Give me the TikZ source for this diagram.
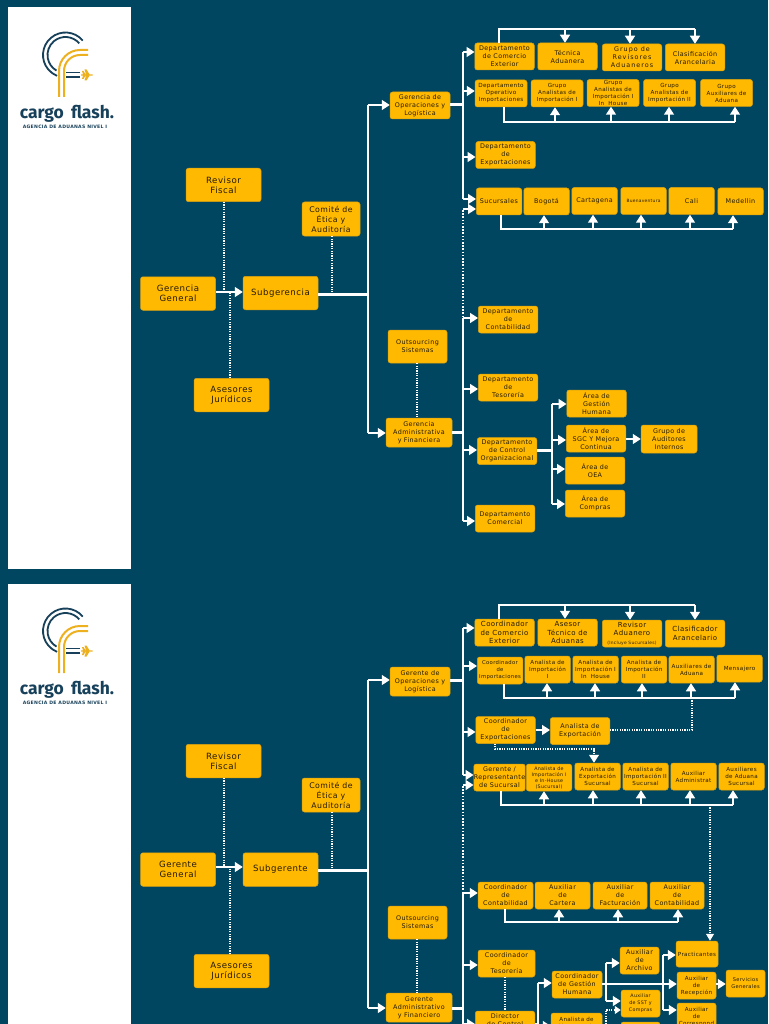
\documentclass[tikz,border=0pt]{standalone}
\usepackage{fontspec}
\setmainfont{DejaVu Sans}[LetterSpace=6]
\newfontfamily\brandfont{Fira Sans}
\usetikzlibrary{arrows.meta}
\definecolor{fondo}{HTML}{004660}
\definecolor{oro}{HTML}{FFB900}
\definecolor{borde}{HTML}{D8A012}
\definecolor{letra}{HTML}{241A00}
\definecolor{logoazul}{HTML}{17405A}
\definecolor{logooro}{HTML}{EDB11F}
\tikzset{
  org/.style={draw=borde,line width=.5pt,fill=oro,rounded corners=2.5pt,inner sep=0pt,
    align=center,text=letra},
  fa/.style={font=\fontsize{8.6}{10}\selectfont},
  fb/.style={font=\fontsize{7.8}{10}\selectfont},
  fg/.style={font=\fontsize{7}{8.3}\selectfont},
  fc/.style={font=\fontsize{6.4}{8}\selectfont},
  fd/.style={font=\fontsize{5.6}{7}\selectfont},
  fe/.style={font=\fontsize{4.4}{6}\selectfont},
  bigbox/.style={org,fa,minimum width=75pt,minimum height=33.5pt},
  midbox/.style={org,fc,minimum width=59.5pt,minimum height=27pt},
  lowbox/.style={org,fc,minimum width=52pt,minimum height=27pt},
  smallbox/.style={org,fc,minimum width=45.5pt,minimum height=27pt},
  tinybox/.style={org,fd,minimum width=39pt,minimum height=27pt},
  hilo/.style={white,line width=1.6pt},
  grueso/.style={white,line width=3pt},
  flecha/.style={white,line width=1.6pt,-{Triangle[width=10pt,length=8pt]}},
  punto/.style={white,line width=1.1pt,dash pattern=on 1.2pt off 1.2pt},
  puntog/.style={white,line width=1.6pt,dash pattern=on 1.6pt off 1.6pt},
}
\begin{document}
\begin{tikzpicture}[x=1pt,y=-1pt]
  \clip (0,0) rectangle (768,1024);
  \fill[fondo] (0,0) rectangle (768,1024);
  \fill[white] (8,7) rectangle (131,569);
  \fill[white] (8,584) rectangle (131,1030);
  % logo
  \foreach \yo in {0,576}{
  \begin{scope}[yshift=-\yo pt]
    \draw[logoazul,line width=1.8pt] (65.5,55) ++(40:22.5pt) arc[start angle=40,end angle=248,radius=22.5pt];
    \draw[logoazul,line width=1.8pt] (65.5,55) ++(40:18pt) arc[start angle=40,end angle=240,radius=18pt];
    \draw[logoazul,line width=1.6pt] (66,72.5) -- (80,72.5) (66,77) -- (80,77);
    \draw[logooro,line width=2pt] (59,97) -- (59,71) arc[start angle=180,end angle=90,radius=21pt] -- (88,50);
    \draw[logooro,line width=2pt] (64,97) -- (64,71) arc[start angle=180,end angle=90,radius=16pt] -- (88,55);
    \fill[logooro] (81,74.3) -- (83,74.3) -- (82,71) -- (83.5,71) -- (85.5,74.3) -- (86,74.3) -- (84.5,69.5) -- (86.5,69.5)
      -- (89.5,74.3) -- (92,74.3) -- (93,75) -- (92,75.7) -- (89.5,75.7) -- (86.5,80.5) -- (84.5,80.5) -- (86,75.7)
      -- (85.5,75.7) -- (83.5,79) -- (82,79) -- (83,75.7) -- (81,75.7) -- cycle;
    \node[text=logoazul,inner sep=0pt,font=\brandfont\bfseries\fontsize{17.5}{20}\selectfont] (marca\yo) at (67,114) {cargo\, flash.};
    \node[text=logoazul,inner sep=0pt,font=\bfseries\fontsize{4.6}{5}\selectfont] (lema\yo) at (65,127) {AGENCIA DE ADUANAS NIVEL I};
  \end{scope}
  }
  % primer organigrama
  \node[bigbox] (rf) at (223.5,185) {Revisor\\Fiscal};
  \node[bigbox] (gg) at (178,293.5) {Gerencia\\General};
  \node[bigbox] (sg) at (280.5,293) {Subgerencia};
  \node[bigbox] (aj) at (231.5,395) {Asesores\\Jurídicos};
  \node[org,fb,minimum width=58pt,minimum height=34pt] (ce) at (331,219) {Comité de\\Ética y\\Auditoría};
  \node[org,fc,minimum width=60pt,minimum height=27pt] (go) at (420,105.5) {Gerencia de\\Operaciones y\\Logística};
  \node[org,fc,minimum width=66pt,minimum height=29pt] (ga) at (419,432.5) {Gerencia\\Administrativa\\y Financiera};
  \node[org,fc,minimum width=59pt,minimum height=33pt] (os) at (417.5,346.5) {Outsourcing\\Sistemas};
  \node[midbox] (dce) at (504.5,56.5) {Departamento\\de Comercio\\Exterior};
  \node[midbox] (ta) at (567.5,56.5) {Técnica\\Aduanera};
  \node[midbox,font=\fontsize{6.4}{8}\selectfont\addfontfeature{LetterSpace=16}] (gr) at (632,57.5) {Grupo de\\Revisores\\Aduaneros};
  \node[midbox] (ca) at (695,57.5) {Clasificación\\Arancelaria};
  \node[lowbox,fe,font=\fontsize{5.7}{7}\selectfont] (dop) at (501,93.5) {Departamento\\Operativo\\Importaciones};
  \node[lowbox,fd] (g1) at (557,93.5) {Grupo\\Analistas de\\Importación I};
  \node[lowbox,fd] (g2) at (613,93) {Grupo\\Analistas de\\Importación I\\In\ \ House};
  \node[lowbox,fd] (g3) at (669.5,93) {Grupo\\Analistas de\\Importación II};
  \node[lowbox,fd] (g4) at (726.5,93) {Grupo\\Auxiliares de\\Aduana};
  \node[midbox] (dex) at (505.5,155) {Departamento\\de\\Exportaciones};
  \node[smallbox] (suc) at (499,201.5) {Sucursales};
  \node[smallbox] (bog) at (546.5,201.5) {Bogotá};
  \node[smallbox] (car) at (594.5,201) {Cartagena};
  \node[smallbox,fe] (bue) at (643.5,201) {Buenaventura};
  \node[smallbox] (cal) at (691.5,201) {Cali};
  \node[smallbox] (med) at (740.5,201.5) {Medellin};
  \node[midbox] (dcn) at (508,319.5) {Departamento\\de\\Contabilidad};
  \node[midbox] (dte) at (508,387.5) {Departamento\\de\\Tesorería};
  \node[midbox] (dco) at (507,451) {Departamento\\de Control\\Organizacional};
  \node[midbox] (dcm) at (505,518.5) {Departamento\\Comercial};
  \node[midbox] (ah) at (596.5,403.5) {Área de\\Gestión\\Humana};
  \node[midbox] (as) at (596,438.5) {Área de\\SGC Y Mejora\\Continua};
  \node[midbox] (ao) at (595,470.5) {Área de\\OEA};
  \node[midbox] (ac) at (595,503.5) {Área de\\Compras};
  \node[org,fc,minimum width=56pt,minimum height=28pt] (au) at (669,439) {Grupo de\\Auditores\\Internos};

  \coordinate (ma) at (368,105);
  \coordinate (ta1) at (463,52);
  \coordinate (tb1) at (463,318);
  \coordinate (tc1) at (552,404);
  \draw[hilo,-{Triangle[width=10pt,length=8pt]}] (gg.east |- 0,292) -- (sg.west |- 0,292);
  \draw[punto] (rf.south -| 224,0) -- (224,290);
  \draw[punto] (aj.north -| 230,0) -- (230,293);
  \draw[punto] (ce.south -| 332,0) -- (332,292);
  \draw[punto] (os.south -| 417,0) -- (ga.north -| 417,0);
  \draw[grueso] (sg.east |- 0,294) -- (ma |- 0,294);
  \draw[hilo] (ma) -- (ma |- 0,433);
  \draw[flecha] (ma) -- (ma -| go.west);
  \draw[flecha] (ma |- 0,433) -- (ga.west |- 0,433);
  \draw[grueso] (go.east |- 0,105) -- (ta1 |- 0,105);
  \draw[hilo] (ta1) -- (ta1 |- 0,199);
  \foreach \y/\n in {52/dce,91/dop,157/dex,199/suc}
    \draw[flecha] (ta1 |- 0,\y) -- (\n.west |- 0,\y);
  \draw[flecha] (ta1 |- 0,209) -- (suc.west |- 0,209);
  \draw[puntog] (ta1 |- 0,210) -- (tb1);
  \draw[grueso] (ga.east |- 0,432) -- (tb1 |- 0,432);
  \draw[hilo] (tb1) -- (tb1 |- 0,521);
  \foreach \y/\n in {318/dcn,389/dte,450/dco,521/dcm}
    \draw[flecha] (tb1 |- 0,\y) -- (\n.west |- 0,\y);
  \draw[hilo] (dce.north -| 499,0) |- (695,29) coordinate (ba1);
  \foreach \x/\n in {565/ta,630/gr,695/ca}
    \draw[flecha] (ba1 -| \x,0) -- (\n.north -| \x,0);
  \draw[hilo] (dop.south -| 504,0) |- (735,122) coordinate (bb1);
  \foreach \x/\n in {555/g1,611/g2,669/g3,735/g4}
    \draw[flecha] (bb1 -| \x,0) -- (\n.south -| \x,0);
  \draw[hilo] (suc.south -| 501,0) |- (733,229) coordinate (bc1);
  \foreach \x/\n in {544/bog,593/car,641/bue,690/cal,733/med}
    \draw[flecha] (bc1 -| \x,0) -- (\n.south -| \x,0);
  \draw[grueso] (dco.east |- 0,450) -- (tc1 |- 0,450);
  \draw[hilo] (tc1) -- (tc1 |- 0,504);
  \foreach \y/\n in {404/ah,440/as,469/ao,504/ac}
    \draw[flecha] (tc1 |- 0,\y) -- (\n.west |- 0,\y);
  \draw[flecha] (as.east |- 0,439) -- (au.west |- 0,439);

  % segundo organigrama
  \node[bigbox] (rf1) at (223.5,761) {Revisor\\Fiscal};
  \node[bigbox] (gg1) at (178,869.5) {Gerente\\General};
  \node[bigbox] (sg1) at (280.5,869.5) {Subgerente};
  \node[bigbox] (aj1) at (231.5,971) {Asesores\\Jurídicos};
  \node[org,fb,minimum width=58pt,minimum height=34pt] (ce1) at (331,795) {Comité de\\Ética y\\Auditoría};
  \node[org,fc,minimum width=60pt,minimum height=29pt] (go1) at (420,681.5) {Gerente de\\Operaciones y\\Logística};
  \node[org,fc,minimum width=66pt,minimum height=29pt] (ga1) at (419,1007.5) {Gerente\\Administrativo\\y Financiero};
  \node[org,fc,minimum width=59pt,minimum height=33pt] (os1) at (417.5,922.5) {Outsourcing\\Sistemas};
  \node[midbox,fg] (cce) at (504.5,632.5) {Coordinador\\de Comercio\\Exterior};
  \node[midbox,fg] (at) at (567.5,632.5) {Asesor\\Técnico de\\Aduanas};
  \node[midbox,fg] (ra) at (632,633.5) {Revisor\\Aduanero\\{\fontsize{4.4}{5}\selectfont (Incluye Sucursales)}};
  \node[midbox,fg] (cl) at (695,633.5) {Clasificador\\Arancelario};
  \node[smallbox,fe,font=\fontsize{5.3}{7}\selectfont] (cim) at (500,670.5) {Coordinador\\de\\Importaciones};
  \node[smallbox,fd] (ai) at (547.5,669.5) {Analista de\\Importación\\I};
  \node[smallbox,fd] (ah1) at (595.5,669.5) {Analista de\\Importación I\\In\ \ House};
  \node[smallbox,fd] (aii) at (644,669.5) {Analista de\\Importación\\II};
  \node[smallbox,fd] (axa) at (691.5,669.5) {Auxiliares de\\Aduana};
  \node[smallbox,fd] (men) at (739.5,668.5) {Mensajero};
  \node[midbox] (cex) at (505.5,730) {Coordinador\\de\\Exportaciones};
  \node[midbox] (aex) at (580,731) {Analista de\\Exportación};
  \node[org,fc,minimum width=49pt,minimum height=27pt] (grs) at (499.5,777.5) {Gerente /\\Representante\\de Sucursal};
  \node[smallbox,fe,font=\fontsize{4.8}{6}\selectfont] (ais) at (549,777.5) {Analista de\\Importación I\\e In-House\\(Sucursal)};
  \node[smallbox,fd] (aes) at (597.5,776.5) {Analista de\\Exportación\\Sucursal};
  \node[smallbox,fd] (ass) at (645.5,776.5) {Analista de\\Importación II\\Sucursal};
  \node[smallbox,fd] (adm) at (693.5,776.5) {Auxiliar\\Administrat};
  \node[smallbox,fd] (axs) at (741.5,776.5) {Auxiliares\\de Aduana\\Sucursal};
  \node[org,fc,minimum width=55pt,minimum height=27pt] (cco) at (505.5,895.5) {Coordinador\\de\\Contabilidad};
  \node[org,fc,minimum width=55pt,minimum height=27pt] (acr) at (562.5,895.5) {Auxiliar\\de\\Cartera};
  \node[org,fc,minimum width=54pt,minimum height=27pt] (afa) at (620,895.5) {Auxiliar\\de\\Facturación};
  \node[org,fc,minimum width=54pt,minimum height=27pt] (aco) at (677,895.5) {Auxiliar\\de\\Contabilidad};
  \node[org,fc,minimum width=57pt,minimum height=27pt] (cte) at (506.5,963.5) {Coordinador\\de\\Tesorería};
  \node[midbox] (dir) at (505,1024.5) {Director\\de Control\\~};
  \node[org,fc,minimum width=50pt,minimum height=27pt] (cgh) at (577,984.5) {Coordinador\\de Gestión\\Humana};
  \node[org,fd,minimum width=51pt,minimum height=27pt] (asi) at (576.5,1026.5) {Analista de\\Sistemas de\\~};
  \node[tinybox,fc] (aar) at (639.5,960.5) {Auxiliar\\de\\Archivo};
  \node[tinybox,fe,font=\fontsize{4.8}{7}\selectfont] (sst) at (640.5,1003.5) {Auxiliar\\de SST y\\Compras};
  \node[tinybox] (ult) at (640.5,1035.5) {};
  \node[org,fd,minimum width=42pt,minimum height=26pt] (pra) at (697,954) {Practicantes};
  \node[tinybox] (are) at (696.5,985.5) {Auxiliar\\de\\Recepción};
  \node[tinybox,fe,font=\fontsize{5.1}{7}\selectfont] (sge) at (745.5,983.5) {Servicios\\Generales};
  \node[tinybox] (aco1) at (696.5,1016.5) {Auxiliar\\de\\Correspond};

  \coordinate (ma1) at (368,680);
  \coordinate (ta2) at (463,628);
  \coordinate (tb2) at (463,893);
  \coordinate (tc2) at (538,983);
  \coordinate (td2) at (606,963);
  \coordinate (te2) at (663,955);
  \draw[hilo,-{Triangle[width=10pt,length=8pt]}] (gg1.east |- 0,867) -- (sg1.west |- 0,867);
  \draw[punto] (rf1.south -| 224,0) -- (224,866);
  \draw[punto] (aj1.north -| 230,0) -- (230,868);
  \draw[punto] (ce1.south -| 332,0) -- (332,868);
  \draw[punto] (os1.south -| 417,0) -- (ga1.north -| 417,0);
  \draw[grueso] (sg1.east |- 0,870) -- (ma1 |- 0,870);
  \draw[hilo] (ma1) -- (ma1 |- 0,1008);
  \draw[flecha] (ma1) -- (ma1 -| go1.west);
  \draw[flecha] (ma1 |- 0,1008) -- (ga1.west |- 0,1008);
  \draw[grueso] (go1.east |- 0,680) -- (ta2 |- 0,680);
  \draw[hilo] (ta2) -- (ta2 |- 0,775);
  \foreach \y/\n in {628/cce,666/cim,732/cex,775/grs}
    \draw[flecha] (ta2 |- 0,\y) -- (\n.west |- 0,\y);
  \draw[flecha] (ta2 |- 0,785) -- (grs.west |- 0,785);
  \draw[puntog] (ta2 |- 0,786) -- (tb2);
  \draw[grueso] (ga1.east |- 0,1008) -- (tb2 |- 0,1008);
  \draw[hilo] (tb2) -- (tb2 |- 0,1030);
  \foreach \y/\n in {893/cco,965/cte,1024/dir}
    \draw[flecha] (tb2 |- 0,\y) -- (\n.west |- 0,\y);
  \draw[hilo] (cce.north -| 499,0) |- (695,605) coordinate (ba2);
  \foreach \x/\n in {565/at,630/ra,695/cl}
    \draw[flecha] (ba2 -| \x,0) -- (\n.north -| \x,0);
  \draw[hilo] (cim.south -| 504,0) |- (735,698) coordinate (bb2);
  \foreach \x/\n in {547/ai,595/ah1,642/aii,691/axa,735/men}
    \draw[flecha] (bb2 -| \x,0) -- (\n.south -| \x,0);
  \draw[flecha] (cex.east |- 0,730) -- (aex.west |- 0,730);
  \draw[punto] (aex.east |- 0,730) -| (bb2 -| 692,0);
  \draw[punto,-{Triangle[width=10pt,length=8pt]}] (cex.south -| 495,0) |- (594,749) -- (aes.north -| 594,0);
  \draw[hilo] (grs.south -| 501,0) |- (733,805) coordinate (bc2);
  \foreach \x/\n in {544/ais,593/aes,641/ass,690/adm,733/axs}
    \draw[flecha] (bc2 -| \x,0) -- (\n.south -| \x,0);
  \draw[hilo] (cco.south -| 505,0) |- (678,922) coordinate (bd2);
  \foreach \x/\n in {559/acr,618/afa,678/aco}
    \draw[flecha] (bd2 -| \x,0) -- (\n.south -| \x,0);
  \draw[punto,-{Triangle[width=8pt,length=7pt]}] (bc2 -| 710,0) -- (pra.north -| 710,0);
  \draw[punto] (cte.south -| 505,0) -- (dir.north -| 505,0);
  \draw[grueso] (dir.east) -- (dir.east -| tc2);
  \draw[hilo] (tc2) -- (tc2 |- 0,1030);
  \draw[flecha] (tc2) -- (tc2 -| cgh.west);
  \draw[flecha] (tc2 |- 0,1026) -- (asi.west |- 0,1026);
  \draw[flecha] (cgh.east |- 0,984) -- (are.west |- 0,984);
  \draw[hilo] (td2) -- (td2 |- 0,1001);
  \draw[flecha] (td2) -- (td2 -| aar.west);
  \draw[flecha] (td2 |- 0,1001) -- (sst.west |- 0,1001);
  \draw[punto,-{Triangle[width=8pt,length=6pt]}] (td2 |- 0,1024) -- (td2 |- 0,1010) -- (sst.west |- 0,1010);
  \draw[hilo] (te2) -- (te2 |- 0,1010);
  \draw[flecha] (te2) -- (te2 -| pra.west);
  \draw[flecha] (te2 |- 0,1010) -- (aco1.west |- 0,1010);
  \draw[flecha] (are.east |- 0,984) -- (sge.west |- 0,984);
\end{tikzpicture}
\end{document}
